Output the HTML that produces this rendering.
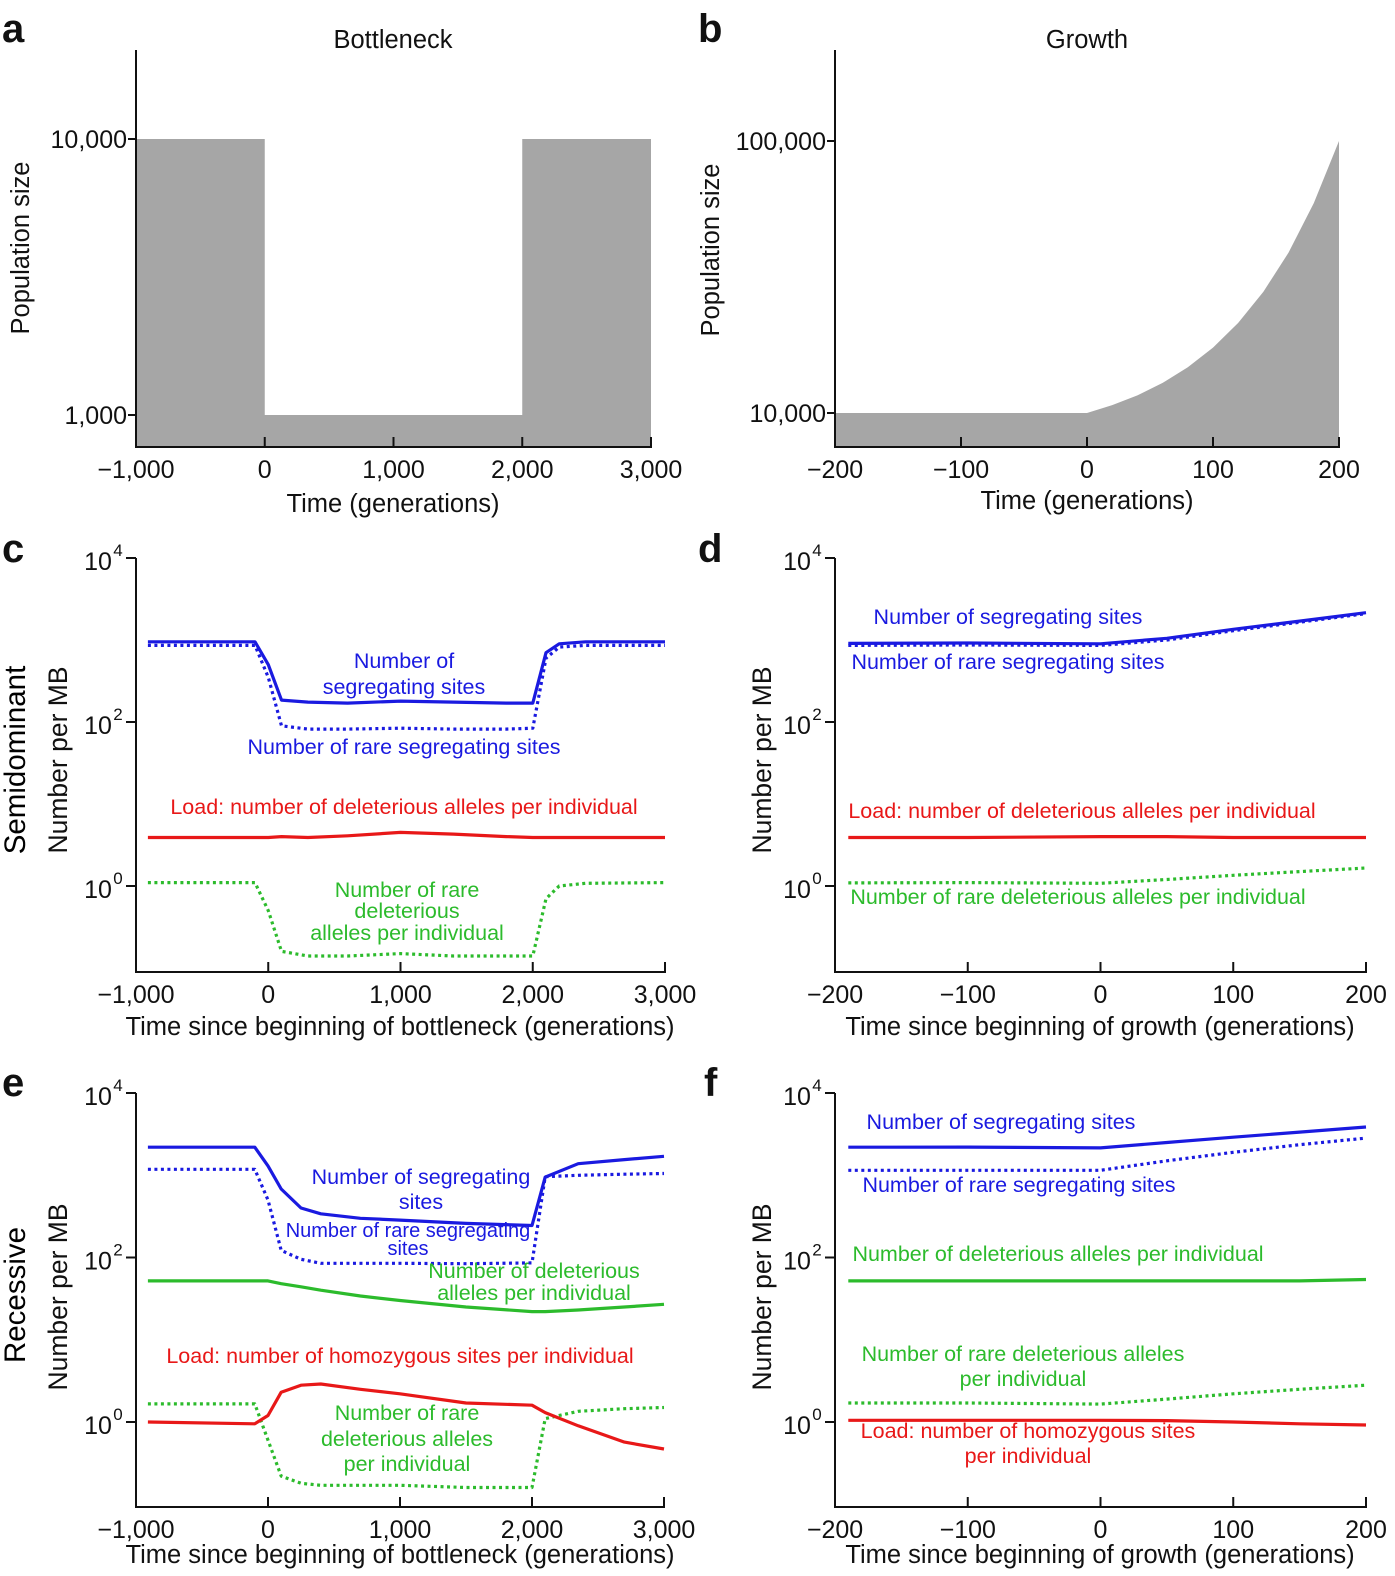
<!DOCTYPE html>
<html><head><meta charset="utf-8">
<style>
body{margin:0;background:#fff;}
svg{display:block;font-family:"Liberation Sans",sans-serif;}
.tk{font-size:25px;fill:#111;}
.ttl{font-size:25.5px;fill:#111;}
.lbl{font-size:21.5px;}
.pl{font-size:40px;font-weight:bold;fill:#111;}
</style></head>
<body>
<svg id="fig" width="1395" height="1576" viewBox="0 0 1395 1576" xmlns="http://www.w3.org/2000/svg">
<g id="root"></g>
<text class="pl" x="2" y="42">a</text>
<text class="pl" x="698" y="42">b</text>
<text class="pl" x="2" y="562">c</text>
<text class="pl" x="698" y="562">d</text>
<text class="pl" x="2" y="1096">e</text>
<text class="pl" x="704" y="1096">f</text>
<text class="ttl" x="393" y="48" text-anchor="middle">Bottleneck</text>
<text class="ttl" x="1087" y="48" text-anchor="middle">Growth</text>
<text class="ttl" x="393" y="512" text-anchor="middle">Time (generations)</text>
<text class="ttl" x="1087" y="509" text-anchor="middle">Time (generations)</text>
<text class="ttl" transform="translate(29,248) rotate(-90)" text-anchor="middle">Population size</text>
<text class="ttl" transform="translate(719,250) rotate(-90)" text-anchor="middle">Population size</text>
<text class="ttl" x="400" y="1035" text-anchor="middle">Time since beginning of bottleneck (generations)</text>
<text class="ttl" x="1100" y="1035" text-anchor="middle">Time since beginning of growth (generations)</text>
<text class="ttl" x="400" y="1563" text-anchor="middle">Time since beginning of bottleneck (generations)</text>
<text class="ttl" x="1100" y="1563" text-anchor="middle">Time since beginning of growth (generations)</text>
<text style="font-size:29.5px" transform="translate(25,760) rotate(-90)" text-anchor="middle">Semidominant</text>
<text style="font-size:29.5px" transform="translate(25,1295) rotate(-90)" text-anchor="middle">Recessive</text>
<text class="ttl" style="font-size:26.5px" transform="translate(67,760) rotate(-90)" text-anchor="middle">Number per MB</text>
<text class="ttl" style="font-size:26.5px" transform="translate(771,760) rotate(-90)" text-anchor="middle">Number per MB</text>
<text class="ttl" style="font-size:26.5px" transform="translate(67,1297) rotate(-90)" text-anchor="middle">Number per MB</text>
<text class="ttl" style="font-size:26.5px" transform="translate(771,1297) rotate(-90)" text-anchor="middle">Number per MB</text>

<g class="lbl">
<text x="404" y="668" text-anchor="middle" fill="#1a1ae0">Number of</text>
<text x="404" y="694" text-anchor="middle" fill="#1a1ae0">segregating sites</text>
<text x="404" y="754" text-anchor="middle" fill="#1a1ae0">Number of rare segregating sites</text>
<text x="404" y="814" text-anchor="middle" fill="#e81818">Load: number of deleterious alleles per individual</text>
<text x="407" y="897" text-anchor="middle" fill="#2cbb2c">Number of rare</text>
<text x="407" y="918" text-anchor="middle" fill="#2cbb2c">deleterious</text>
<text x="407" y="940" text-anchor="middle" fill="#2cbb2c">alleles per individual</text>

<text x="1008" y="624" text-anchor="middle" fill="#1a1ae0">Number of segregating sites</text>
<text x="1008" y="669" text-anchor="middle" fill="#1a1ae0">Number of rare segregating sites</text>
<text x="1082" y="818" text-anchor="middle" fill="#e81818">Load: number of deleterious alleles per individual</text>
<text x="1078" y="904" text-anchor="middle" fill="#2cbb2c">Number of rare deleterious alleles per individual</text>

<text x="421" y="1184" text-anchor="middle" fill="#1a1ae0">Number of segregating</text>
<text x="421" y="1209" text-anchor="middle" fill="#1a1ae0">sites</text>
<text x="408" y="1237" text-anchor="middle" fill="#1a1ae0" style="font-size:20px">Number of rare segregating</text>
<text x="408" y="1255" text-anchor="middle" fill="#1a1ae0" style="font-size:20px">sites</text>
<text x="534" y="1278" text-anchor="middle" fill="#2cbb2c">Number of deleterious</text>
<text x="534" y="1300" text-anchor="middle" fill="#2cbb2c">alleles per individual</text>
<text x="400" y="1363" text-anchor="middle" fill="#e81818">Load: number of homozygous sites per individual</text>
<text x="407" y="1420" text-anchor="middle" fill="#2cbb2c">Number of rare</text>
<text x="407" y="1446" text-anchor="middle" fill="#2cbb2c">deleterious alleles</text>
<text x="407" y="1471" text-anchor="middle" fill="#2cbb2c">per individual</text>

<text x="1001" y="1129" text-anchor="middle" fill="#1a1ae0">Number of segregating sites</text>
<text x="1019" y="1192" text-anchor="middle" fill="#1a1ae0">Number of rare segregating sites</text>
<text x="1058" y="1261" text-anchor="middle" fill="#2cbb2c">Number of deleterious alleles per individual</text>
<text x="1023" y="1361" text-anchor="middle" fill="#2cbb2c">Number of rare deleterious alleles</text>
<text x="1023" y="1386" text-anchor="middle" fill="#2cbb2c">per individual</text>
<text x="1028" y="1438" text-anchor="middle" fill="#e81818">Load: number of homozygous sites</text>
<text x="1028" y="1463" text-anchor="middle" fill="#e81818">per individual</text>
</g>
</svg>
<script>
// ---- data ----
const bottleTimes = [-1000, 0, 0, 2000, 2000, 3000];
const bottleSizes = [10000, 10000, 1000, 1000, 10000, 10000];
const growthTimes = [-200, 0, 20, 40, 60, 80, 100, 120, 140, 160, 180, 200];
const growthSizes = [10000, 10000, 12590, 15850, 19950, 25120, 31620, 39810, 50120, 63100, 79430, 100000];

const cTimes = [-910, -100, 0, 100, 300, 600, 1000, 1400, 1800, 2000, 2100, 2200, 2400, 3000];
const cSeg = [950, 950, 500, 185, 175, 170, 180, 175, 170, 170, 700, 900, 950, 950];
const cRareSeg = [860, 860, 350, 90, 82, 82, 84, 82, 82, 84, 600, 820, 860, 860];
const cLoad = [3.9, 3.9, 3.9, 4.0, 3.9, 4.1, 4.5, 4.3, 4.0, 3.9, 3.9, 3.9, 3.9, 3.9];
const cRareDel = [1.1, 1.1, 0.5, 0.16, 0.14, 0.14, 0.15, 0.14, 0.14, 0.14, 0.7, 1.0, 1.08, 1.1];

const dTimes = [-190, -100, 0, 50, 100, 150, 200];
const dSeg = [910, 920, 900, 1050, 1350, 1700, 2150];
const dRareSeg = [860, 870, 860, 1000, 1300, 1650, 2100];
const dLoad = [3.9, 3.9, 4.0, 4.0, 3.9, 3.9, 3.9];
const dRareDel = [1.09, 1.1, 1.08, 1.2, 1.35, 1.5, 1.66];

const eTimes = [-910, -100, 0, 100, 250, 400, 700, 1000, 1500, 2000, 2100, 2350, 2700, 3000];
const eSeg = [2190, 2190, 1300, 680, 400, 340, 300, 285, 260, 245, 950, 1380, 1550, 1700];
const eRareSeg = [1180, 1180, 500, 122, 95, 85, 85, 85, 84, 86, 960, 1000, 1030, 1050];
const eDel = [52, 52, 52, 48, 44, 40, 34, 30, 25, 22, 22, 23, 25, 27];
const eRareDel = [1.66, 1.66, 0.6, 0.22, 0.18, 0.17, 0.17, 0.17, 0.16, 0.16, 1.1, 1.35, 1.45, 1.5];
const eLoad = [1.0, 0.95, 1.2, 2.3, 2.8, 2.9, 2.5, 2.2, 1.7, 1.6, 1.3, 0.9, 0.57, 0.47];

const fTimes = [-190, -100, 0, 50, 100, 150, 200];
const fSeg = [2190, 2200, 2150, 2500, 2900, 3350, 3860];
const fRareSeg = [1150, 1150, 1150, 1500, 1900, 2350, 2830];
const fDel = [52, 52, 52, 52, 52, 52, 54];
const fRareDel = [1.7, 1.7, 1.65, 1.9, 2.2, 2.5, 2.8];
const fLoad = [1.05, 1.05, 1.05, 1.04, 1.0, 0.95, 0.92];

const xTicksBottle = [-1000, 0, 1000, 2000, 3000];
const xTickLabelsBottle = ["\u22121,000", "0", "1,000", "2,000", "3,000"];
const xTicksGrowth = [-200, -100, 0, 100, 200];
const xTickLabelsGrowth = ["\u2212200", "\u2212100", "0", "100", "200"];
const logTicks = [4, 2, 0];

const NS = "http://www.w3.org/2000/svg";
const root = document.getElementById("root");
function mk(tag, attrs) {
  const e = document.createElementNS(NS, tag);
  for (const k in attrs) e.setAttribute(k, attrs[k]);
  root.appendChild(e);
  return e;
}
function linX(d0, d1, p0, p1) { return v => p0 + (v - d0) / (d1 - d0) * (p1 - p0); }

function axes(prefix, x0, x1, yTop, yBot, xs, tickVals, tickLabels) {
  const ax = mk("path", {d: `M${x0},${yTop} V${yBot} H${x1}`, fill: "none", stroke: "#111", "stroke-width": 2});
  
  
  tickVals.forEach((v, i) => {
    const x = xs(v);
    if (i > 0) {
      const t = mk("line", {x1: x, x2: x, y1: yBot, y2: yBot - 10, stroke: "#111", "stroke-width": 2});
      
      
    }
    const l = mk("text", {x: x, y: yBot + 31, "text-anchor": "middle", class: "tk"});
    l.textContent = tickLabels[i];
    
    
  });
}
function yTickLin(prefix, x0, y, label) {
  const t = mk("line", {x1: x0 - 8, x2: x0, y1: y, y2: y, stroke: "#111", "stroke-width": 2});
  
  
  const l = mk("text", {x: x0 - 9, y: y + 9, "text-anchor": "end", class: "tk"});
  l.textContent = label;
  
  
}
function yTickLog(prefix, x0, ys, p) {
  const y = ys(Math.pow(10, p));
  const t = mk("line", {x1: x0 - 10, x2: x0, y1: y, y2: y, stroke: "#111", "stroke-width": 2});
  
  
  const l = mk("text", {x: x0 - 38, y: y + 12, "text-anchor": "middle", class: "tk"});
  l.textContent = "10";
  
  
  const s = mk("text", {x: x0 - 18, y: y - 2, "text-anchor": "middle", style: "font-size:17px;fill:#111"});
  s.textContent = String(p);
  
  
}
function series(prefix, name, times, vals, xs, ys, color, dotted) {
  let d = "";
  times.forEach((t, i) => { d += (i ? "L" : "M") + xs(t).toFixed(1) + "," + ys(vals[i]).toFixed(1); });
  const attrs = {d: d, fill: "none", stroke: color, "stroke-width": 3.2, "stroke-linejoin": "round"};
  if (dotted) attrs["stroke-dasharray"] = "3,3.5";
  const p = mk("path", attrs);
  
  
}

// Panel a
{
  const xs = linX(-1000, 3000, 136, 651);
  const ys = linX(1000, 10000, 415, 139);
  let d = `M${xs(bottleTimes[0])},447`;
  bottleTimes.forEach((t, i) => { d += `L${xs(t)},${ys(bottleSizes[i])}`; });
  d += `L${xs(bottleTimes[bottleTimes.length - 1])},447Z`;
  const f = mk("path", {d: d, fill: "#a6a6a6"});
  
  
  axes("a", 136, 652, 50, 447, xs, xTicksBottle, xTickLabelsBottle);
  yTickLin("a", 136, ys(10000), "10,000");
  yTickLin("a", 136, ys(1000), "1,000");
}
// Panel b
{
  const xs = linX(-200, 200, 835, 1339);
  const ys = linX(10000, 100000, 413, 141);
  let d = `M${xs(-200)},447L${xs(-200)},${ys(10000)}`;
  growthTimes.forEach((t, i) => { d += `L${xs(t)},${ys(growthSizes[i])}`; });
  d += `L${xs(200)},447Z`;
  const f = mk("path", {d: d, fill: "#a6a6a6"});
  
  
  axes("b", 835, 1340, 50, 447, xs, xTicksGrowth, xTickLabelsGrowth);
  yTickLin("b", 835, ys(100000), "100,000");
  yTickLin("b", 835, ys(10000), "10,000");
}
function logY(y4, y0) { return v => y0 - Math.log10(v) / 4 * (y0 - y4); }
// Panel c
{
  const xs = linX(-1000, 3000, 136, 665);
  const ys = logY(558, 886);
  axes("c", 136, 666, 558, 972, xs, xTicksBottle, xTickLabelsBottle);
  logTicks.forEach(p => yTickLog("c", 136, ys, p));
  series("c", "segregating", cTimes, cSeg, xs, ys, "#1a1ae0", false);
  series("c", "rare-segregating", cTimes, cRareSeg, xs, ys, "#1a1ae0", true);
  series("c", "load", cTimes, cLoad, xs, ys, "#e81818", false);
  series("c", "rare-deleterious", cTimes, cRareDel, xs, ys, "#2cbb2c", true);
}
// Panel d
{
  const xs = linX(-200, 200, 835, 1366);
  const ys = logY(558, 886);
  axes("d", 835, 1367, 558, 972, xs, xTicksGrowth, xTickLabelsGrowth);
  logTicks.forEach(p => yTickLog("d", 835, ys, p));
  series("d", "segregating", dTimes, dSeg, xs, ys, "#1a1ae0", false);
  series("d", "rare-segregating", dTimes, dRareSeg, xs, ys, "#1a1ae0", true);
  series("d", "load", dTimes, dLoad, xs, ys, "#e81818", false);
  series("d", "rare-deleterious", dTimes, dRareDel, xs, ys, "#2cbb2c", true);
}
// Panel e
{
  const xs = linX(-1000, 3000, 136, 664);
  const ys = logY(1093, 1422);
  axes("e", 136, 665, 1093, 1507, xs, xTicksBottle, xTickLabelsBottle);
  logTicks.forEach(p => yTickLog("e", 136, ys, p));
  series("e", "segregating", eTimes, eSeg, xs, ys, "#1a1ae0", false);
  series("e", "rare-segregating", eTimes, eRareSeg, xs, ys, "#1a1ae0", true);
  series("e", "deleterious", eTimes, eDel, xs, ys, "#2cbb2c", false);
  series("e", "rare-deleterious", eTimes, eRareDel, xs, ys, "#2cbb2c", true);
  series("e", "load", eTimes, eLoad, xs, ys, "#e81818", false);
}
// Panel f
{
  const xs = linX(-200, 200, 835, 1366);
  const ys = logY(1093, 1422);
  axes("f", 835, 1367, 1093, 1507, xs, xTicksGrowth, xTickLabelsGrowth);
  logTicks.forEach(p => yTickLog("f", 835, ys, p));
  series("f", "segregating", fTimes, fSeg, xs, ys, "#1a1ae0", false);
  series("f", "rare-segregating", fTimes, fRareSeg, xs, ys, "#1a1ae0", true);
  series("f", "deleterious", fTimes, fDel, xs, ys, "#2cbb2c", false);
  series("f", "rare-deleterious", fTimes, fRareDel, xs, ys, "#2cbb2c", true);
  series("f", "load", fTimes, fLoad, xs, ys, "#e81818", false);
}
</script>
</body></html>
